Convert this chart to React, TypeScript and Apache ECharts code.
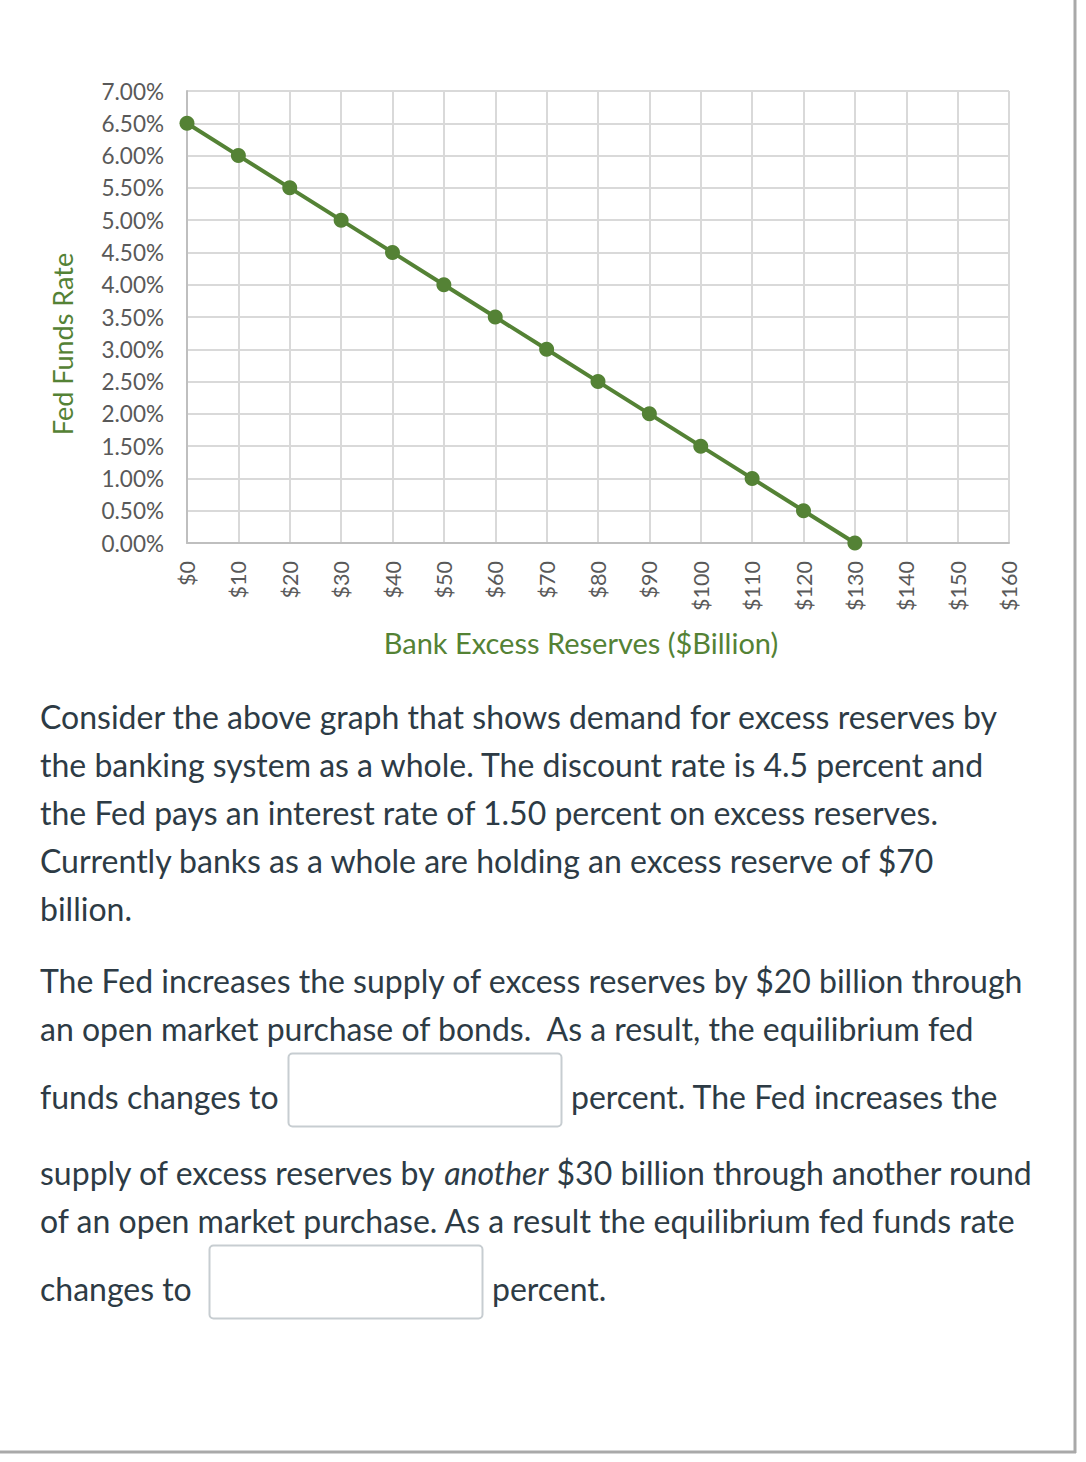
import React, { useEffect, useRef } from "react";
import * as echarts from "echarts";

const reserves = [0, 10, 20, 30, 40, 50, 60, 70, 80, 90, 100, 110, 120, 130];
const rates = [6.5, 6.0, 5.5, 5.0, 4.5, 4.0, 3.5, 3.0, 2.5, 2.0, 1.5, 1.0, 0.5, 0.0];
const xTicks = { min: 0, max: 160, interval: 10 };
const yTicks = { min: 0, max: 7, interval: 0.5 };
const xName = "Bank Excess Reserves ($Billion)";
const yName = "Fed Funds Rate";

const para1 = [
  "Consider the above graph that shows demand for excess reserves by",
  "the banking system as a whole. The discount rate is 4.5 percent and",
  "the Fed pays an interest rate of 1.50 percent on excess reserves.",
  "Currently banks as a whole are holding an excess reserve of $70",
  "billion.",
];
const para2 = [
  "The Fed increases the supply of excess reserves by $20 billion through",
  "an open market purchase of bonds.  As a result, the equilibrium fed",
];

const FONT = "Lato, 'Open Sans', sans-serif";
const TXT = "#2d3b45";
const GREEN = "#548235";
const FS = 32;

export default function App() {
  const ref = useRef<HTMLDivElement>(null);
  useEffect(() => {
    const chart = echarts.init(ref.current!, undefined, { renderer: "svg" });
    const data = reserves.map((x, i) => [x, rates[i]]);
    const tstyle = (text: string, x: number, y: number, extra: any = {}) => ({
      type: "text",
      x,
      y,
      style: { text, fontSize: FS, fontFamily: FONT, fill: TXT, textVerticalAlign: "middle", ...extra },
    });
    const graphics: any[] = [];
    graphics.push({
      type: "text",
      x: 62,
      y: 344,
      rotation: Math.PI / 2,
      style: {
        text: yName,
        fontSize: 27,
        fontFamily: FONT,
        fill: GREEN,
        textAlign: "center",
        textVerticalAlign: "middle",
      },
    });
    graphics.push({
      type: "text",
      x: 581,
      y: 642,
      style: {
        text: xName,
        fontSize: 29,
        fontFamily: FONT,
        fill: GREEN,
        textAlign: "center",
        textVerticalAlign: "middle",
      },
    });
    para1.forEach((t, i) => graphics.push(tstyle(t, 40, 716 + i * 48)));
    para2.forEach((t, i) => graphics.push(tstyle(t, 40, 980 + i * 48)));
    graphics.push(tstyle("funds changes to", 40, 1096));
    graphics.push({
      type: "rect",
      shape: { x: 288.5, y: 1053.5, width: 273, height: 73, r: 4 },
      style: { fill: "#fff", stroke: "#c7cdd1", lineWidth: 2 },
    });
    graphics.push(tstyle("percent. The Fed increases the", 571, 1096));
    graphics.push({
      type: "text",
      x: 40,
      y: 1172,
      style: {
        text: "supply of excess reserves by {i|another} $30 billion through another round",
        fontSize: FS,
        fontFamily: FONT,
        fill: TXT,
        textVerticalAlign: "middle",
        rich: { i: { fontStyle: "italic", fontSize: FS, fontFamily: FONT, fill: TXT } },
      },
    });
    graphics.push(tstyle("of an open market purchase. As a result the equilibrium fed funds rate", 40, 1220));
    graphics.push(tstyle("changes to", 40, 1288));
    graphics.push({
      type: "rect",
      shape: { x: 209.5, y: 1245.5, width: 273, height: 73, r: 4 },
      style: { fill: "#fff", stroke: "#c7cdd1", lineWidth: 2 },
    });
    graphics.push(tstyle("percent.", 492, 1288));
    graphics.push({
      type: "line",
      shape: { x1: 1075, y1: 0, x2: 1075, y2: 1453 },
      style: { stroke: "#a9a9a9", lineWidth: 3 },
    });
    graphics.push({
      type: "line",
      shape: { x1: 0, y1: 1452, x2: 1076, y2: 1452 },
      style: { stroke: "#a9a9a9", lineWidth: 3 },
    });

    chart.setOption({
      animation: false,
      backgroundColor: "#ffffff",
      grid: { left: 187, right: 77, top: 91, bottom: 919, containLabel: false },
      xAxis: {
        type: "value",
        min: xTicks.min,
        max: xTicks.max,
        interval: xTicks.interval,
        axisLine: { show: true, lineStyle: { color: "#bfbfbf", width: 2 } },
        axisTick: { show: false },
        splitLine: { show: true, lineStyle: { color: "#d9d9d9", width: 2 } },
        axisLabel: {
          rotate: 90,
          margin: 18,
          color: "#595959",
          fontSize: 21.5,
          fontFamily: FONT,
          formatter: (v: number) => "$" + v,
        },
      },
      yAxis: {
        type: "value",
        min: yTicks.min,
        max: yTicks.max,
        interval: yTicks.interval,
        axisLine: { show: true, lineStyle: { color: "#bfbfbf", width: 2 } },
        axisTick: { show: false },
        splitLine: { show: true, lineStyle: { color: "#d9d9d9", width: 2 } },
        axisLabel: {
          margin: 23,
          color: "#595959",
          fontSize: 22.5,
          fontFamily: FONT,
          formatter: (v: number) => v.toFixed(2) + "%",
        },
      },
      series: [
        {
          type: "line",
          data,
          symbol: "circle",
          symbolSize: 15,
          lineStyle: { color: GREEN, width: 4 },
          itemStyle: { color: GREEN },
          clip: false,
        },
      ],
      graphic: graphics,
    });
    return () => chart.dispose();
  }, []);
  return (
    <div
      ref={ref}
      style={{ position: "absolute", left: 0, top: 0, width: 1086, height: 1462, background: "#fff" }}
    />
  );
}
